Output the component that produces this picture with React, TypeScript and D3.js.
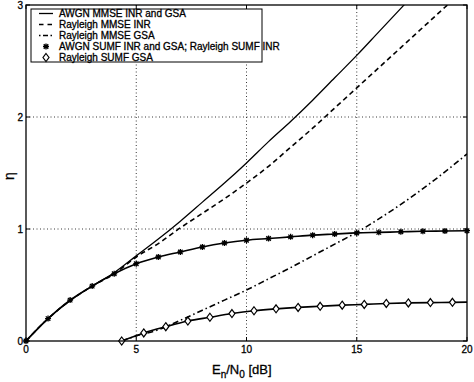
import React from "react";
import * as d3 from "d3";

// ---- data ----
const snrDb = [0, 1, 2, 3, 4, 5, 6, 7, 8, 9, 10, 11, 12, 13, 14, 15, 16, 17, 18, 19, 20];
const awgnMmse = [0, 0.2, 0.36, 0.49, 0.61, 0.76, 0.91, 1.07, 1.24, 1.41, 1.59, 1.78, 1.96, 2.15, 2.35, 2.55, 2.76, 2.97, 3.18, 3.39, 3.6];
const rayleighMmseInr = [0, 0.2, 0.36, 0.49, 0.6, 0.75, 0.87, 1.01, 1.14, 1.27, 1.41, 1.56, 1.73, 1.9, 2.08, 2.26, 2.44, 2.62, 2.8, 2.98, 3.16];
const awgnSumf = [0, 0.2, 0.365, 0.49, 0.6, 0.69, 0.75, 0.795, 0.84, 0.875, 0.9, 0.915, 0.93, 0.945, 0.955, 0.965, 0.97, 0.975, 0.98, 0.982, 0.985];

const gsaSnr = [4.34, 5, 6, 7, 8, 9, 10, 11, 12, 13, 14, 15, 16, 17, 18, 19, 20];
const rayleighMmseGsa = [0, 0.045, 0.1, 0.185, 0.275, 0.365, 0.455, 0.555, 0.655, 0.76, 0.865, 0.97, 1.09, 1.22, 1.36, 1.51, 1.67];

const sumfGsaSnr = [4.34, 5.34, 6.34, 7.34, 8.34, 9.34, 10.34, 11.34, 12.34, 13.34, 14.34, 15.34, 16.34, 17.34, 18.34, 19.34];
const rayleighSumfGsa = [0, 0.072, 0.128, 0.178, 0.212, 0.245, 0.27, 0.287, 0.3, 0.31, 0.32, 0.327, 0.335, 0.34, 0.343, 0.345];
const sumfGsaEnd = { x: 20, y: 0.347 };

const xTicks = [0, 5, 10, 15, 20];
const yTicks = [0, 1, 2, 3];
const legendLabels = [
  "AWGN MMSE INR and GSA",
  "Rayleigh MMSE INR",
  "Rayleigh MMSE GSA",
  "AWGN SUMF INR and GSA; Rayleigh SUMF INR",
  "Rayleigh SUMF GSA",
];

const W = 474;
const H = 382;
const L = 26, R = 467, T = 5, B = 341;
const font = "'Liberation Sans', Arial, Helvetica, sans-serif";

const x = d3.scaleLinear().domain([0, 20]).range([L, R]);
const y = d3.scaleLinear().domain([0, 3]).range([B, T]);

const line = d3
  .line<[number, number]>()
  .x((d) => x(d[0]))
  .y((d) => y(d[1]))
  .curve(d3.curveMonotoneX);

const zip = (xs: number[], ys: number[]): [number, number][] => xs.map((v, i) => [v, ys[i]]);

function Star({ cx, cy, s = 3 }: { cx: number; cy: number; s?: number }) {
  const d2 = s * 0.75;
  return (
    <path
      d={`M${cx - s},${cy}L${cx + s},${cy}M${cx},${cy - s}L${cx},${cy + s}M${cx - d2},${cy - d2}L${cx + d2},${cy + d2}M${cx - d2},${cy + d2}L${cx + d2},${cy - d2}`}
      stroke="#000"
      strokeWidth={1.3}
      fill="none"
    />
  );
}

function Diamond({ cx, cy }: { cx: number; cy: number }) {
  const w = 3, h = 4;
  return (
    <path
      d={`M${cx},${cy - h}L${cx + w},${cy}L${cx},${cy + h}L${cx - w},${cy}Z`}
      stroke="#000"
      strokeWidth={1.2}
      fill="#fff"
    />
  );
}

export default function App() {
  const solidPath = line(zip(snrDb, awgnMmse)) || "";
  const dashedPath = line(zip(snrDb, rayleighMmseInr)) || "";
  const dashDotPath = line(zip(gsaSnr, rayleighMmseGsa)) || "";
  const starPath = line(zip(snrDb, awgnSumf)) || "";
  const diaPts = zip(sumfGsaSnr, rayleighSumfGsa);
  const diaPath = line([...diaPts, [sumfGsaEnd.x, sumfGsaEnd.y]]) || "";

  const legX = 31, legY = 9, legW = 231, legH = 53;
  const rowY = (i: number) => 13.5 + i * 11;

  return (
    <svg
      width={W}
      height={H}
      style={{ position: "absolute", left: 0, top: 0, background: "#fff" }}
      fontFamily={font}
    >
      <rect x={0} y={0} width={W} height={H} fill="#fff" />
      <defs>
        <clipPath id="plotClip">
          <rect x={L} y={T} width={R - L} height={B - T} />
        </clipPath>
      </defs>

      {/* grid */}
      {xTicks.filter((t) => t > 0 && t < 20).map((t) => (
        <line key={"gx" + t} x1={x(t)} x2={x(t)} y1={T} y2={B} stroke="#222" strokeWidth={0.9} strokeDasharray="1 2.5" />
      ))}
      {yTicks.filter((t) => t > 0 && t < 3).map((t) => (
        <line key={"gy" + t} x1={L} x2={R} y1={y(t)} y2={y(t)} stroke="#222" strokeWidth={0.9} strokeDasharray="1 2.5" />
      ))}

      {/* curves */}
      <g clipPath="url(#plotClip)" fill="none" stroke="#000">
        <path d={solidPath} strokeWidth={1.3} />
        <path d={dashedPath} strokeWidth={1.6} strokeDasharray="5 3.5" />
        <path d={dashDotPath} strokeWidth={1.6} strokeDasharray="6 3 1.5 3" />
        <path d={starPath} strokeWidth={1.6} />
        <path d={diaPath} strokeWidth={1.6} />
      </g>
      <g>
        {snrDb.map((v, i) => (
          <Star key={"s" + i} cx={x(v)} cy={y(awgnSumf[i])} />
        ))}
        {diaPts.map((p, i) => (
          <Diamond key={"d" + i} cx={x(p[0])} cy={y(p[1])} />
        ))}
      </g>

      {/* frame */}
      <rect x={L} y={T} width={R - L} height={B - T} fill="none" stroke="#000" strokeWidth={1.3} />
      {/* ticks */}
      {xTicks.map((t) => (
        <g key={"tx" + t}>
          <line x1={x(t)} x2={x(t)} y1={B} y2={B - 4} stroke="#000" strokeWidth={1} />
          <line x1={x(t)} x2={x(t)} y1={T} y2={T + 4} stroke="#000" strokeWidth={1} />
          <text x={x(t)} y={353} textAnchor="middle" fontSize={10} stroke="#000" strokeWidth={0.3}>
            {t}
          </text>
        </g>
      ))}
      {yTicks.map((t) => (
        <g key={"ty" + t}>
          <line x1={L} x2={L + 4} y1={y(t)} y2={y(t)} stroke="#000" strokeWidth={1} />
          <line x1={R} x2={R - 4} y1={y(t)} y2={y(t)} stroke="#000" strokeWidth={1} />
          <text x={23} y={y(t) + 3.6} textAnchor="end" fontSize={10} stroke="#000" strokeWidth={0.3}>
            {t}
          </text>
        </g>
      ))}

      {/* legend */}
      <rect x={legX} y={legY} width={legW} height={legH} fill="#fff" stroke="#000" strokeWidth={1} />
      <g stroke="#000" fill="none">
        <line x1={39} x2={53} y1={rowY(0)} y2={rowY(0)} strokeWidth={1.3} />
        <line x1={39} x2={53} y1={rowY(1)} y2={rowY(1)} strokeWidth={1.6} strokeDasharray="4.5 4" />
        <line x1={39} x2={53} y1={rowY(2)} y2={rowY(2)} strokeWidth={1.6} strokeDasharray="1.5 2.5 5 2.5" />
      </g>
      <Star cx={46} cy={rowY(3)} />
      <Diamond cx={46} cy={rowY(4)} />
      {legendLabels.map((lab, i) => (
        <text key={"l" + i} x={59} y={rowY(i) + 3.6} fontSize={10} stroke="#000" strokeWidth={0.3}>
          {lab}
        </text>
      ))}

      {/* axis titles */}
      <text x={212} y={374} fontSize={13} stroke="#000" strokeWidth={0.3}>
        E<tspan dy={4} fontSize={10}>n</tspan>
        <tspan dy={-4}>/N</tspan>
        <tspan dy={4} fontSize={10}>0</tspan>
        <tspan dy={-4}> [dB]</tspan>
      </text>
      <text
        transform={`translate(14,176) rotate(-90)`}
        textAnchor="middle"
        fontSize={14}
        stroke="#000"
        strokeWidth={0.3}
      >
        η
      </text>
    </svg>
  );
}
